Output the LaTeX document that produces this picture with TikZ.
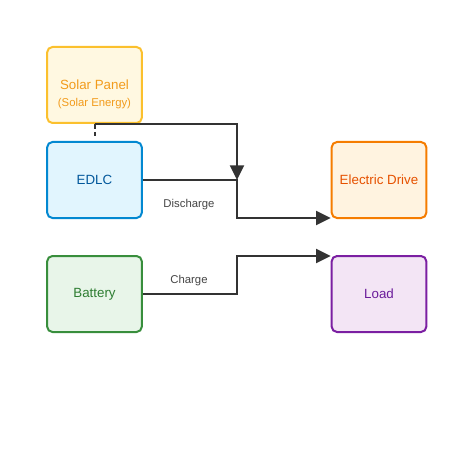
\documentclass[tikz,border=0pt]{standalone}
\usepackage{fontspec}
\setmainfont{Liberation Sans}
\usetikzlibrary{arrows.meta}

\definecolor{solarline}{HTML}{FBC02D}
\definecolor{solarfill}{HTML}{FFF8E1}
\definecolor{solartext}{HTML}{F29B1B}
\definecolor{edlcline}{HTML}{0288D1}
\definecolor{edlcfill}{HTML}{E1F5FE}
\definecolor{edlctext}{HTML}{01579B}
\definecolor{battline}{HTML}{388E3C}
\definecolor{battfill}{HTML}{E8F5E9}
\definecolor{batttext}{HTML}{2E7D32}
\definecolor{driveline}{HTML}{F57C00}
\definecolor{drivefill}{HTML}{FFF3E0}
\definecolor{drivetext}{HTML}{E65100}
\definecolor{loadline}{HTML}{7B1FA2}
\definecolor{loadfill}{HTML}{F3E5F5}
\definecolor{loadtext}{HTML}{6A1B9A}
\definecolor{wiregray}{HTML}{333333}
\definecolor{lblgray}{HTML}{444444}

\begin{document}
\begin{tikzpicture}[x=0.75pt,y=-0.75pt,
        box/.style={draw, line width=1.5pt, rounded corners=4pt, minimum width=71pt, minimum height=57pt, font=\fontsize{10}{12}\selectfont},
        wire/.style={draw=wiregray, line width=1.5pt, -{Triangle[length=11pt,width=10.5pt]}},
        lbl/.style={font=\fontsize{8.5}{10}\selectfont, text=lblgray}]
        \useasboundingbox (0,0) rectangle (474,474);

        % boxes
        \node[box, draw=solarline, fill=solarfill] (solar) at (94.5, 85) {};
        \node[font=\fontsize{10}{12}\selectfont, text=solartext] (solartitle) at (94.5, 85) {Solar Panel};
        \node[font=\fontsize{8.5}{10}\selectfont, text=solartext] (solarsub) at (94.5, 104) {(Solar Energy)};
        \node[box, draw=edlcline, fill=edlcfill, text=edlctext] (edlc) at (94.5, 180) {EDLC};
        \node[box, draw=battline, fill=battfill, text=batttext] (batt) at (94.5, 294) {Battery};
        \node[box, draw=driveline, fill=drivefill, text=drivetext] (drive) at (379, 180) {Electric Drive};
        \node[box, draw=loadline, fill=loadfill, text=loadtext] (load) at (379, 294) {Load};

        % junctions
        \coordinate (j1) at (237, 180);
        \coordinate (j2) at (237, 218);
        \coordinate (j3) at (237, 256);

        % connectors
        \draw[draw=wiregray, line width=1.5pt, dash pattern=on 3.5pt off 2.5pt, shorten >=4pt] (solar.south) -- (edlc.north);
        \draw[wire] (solar.south) -| (j1);
        \draw[wire] (edlc.east) -| (j2) -- (j2 -| drive.west);
        \draw[wire] (batt.east) -| (j3) -- (j3 -| load.west);

        \node[lbl] (dis) at (189, 205) {Discharge};
        \node[lbl] (chg) at (189, 281) {Charge};
\end{tikzpicture}
\end{document}
